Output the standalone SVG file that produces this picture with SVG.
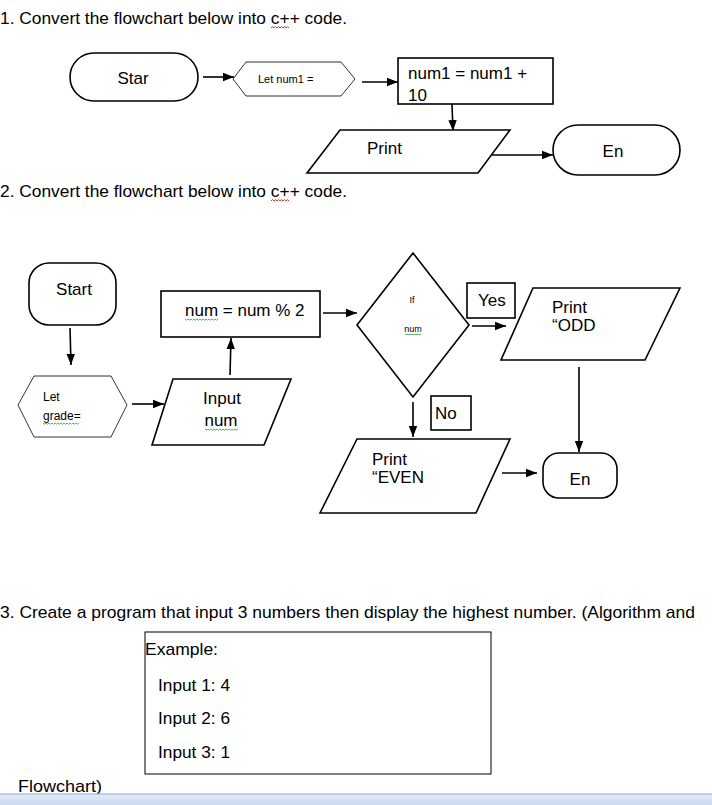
<svg xmlns="http://www.w3.org/2000/svg" width="712" height="805" viewBox="0 0 712 805">
<style>
text{font-family:"Liberation Sans",Arial,sans-serif;fill:#000}
.t{font-size:17px}
.l{font-size:17px}
.s{font-size:11px}
.s2{font-size:12px}
.xs{font-size:9px}
.sh{fill:#fff;stroke:#000;stroke-width:1.6}
.hx{fill:#fff;stroke:#333;stroke-width:1}
.c{fill:none;stroke:#000;stroke-width:1.6}
.sq{fill:none;stroke:#d00;stroke-width:0.8}
.sg{fill:none;stroke:#393;stroke-width:0.8}
</style>
<defs>
<marker id="ah" markerUnits="userSpaceOnUse" markerWidth="11" markerHeight="10" viewBox="0 0 11 10" refX="11" refY="5" orient="auto">
<path d="M0,0.8 L11,5 L0,9.2 Z" fill="#000"/>
</marker>
<linearGradient id="bar" x1="0" y1="0" x2="0" y2="1">
<stop offset="0" stop-color="#e3ecf8"/>
<stop offset="1" stop-color="#c9d9ef"/>
</linearGradient>
</defs>
<rect width="712" height="805" fill="#fff"/>

<g id="titles">
<text class="t" x="0" y="24" textLength="347" lengthAdjust="spacingAndGlyphs">1. Convert the flowchart below into c++ code.</text>
<path class="sq" d="M271,28 l1.5,-1.5 1.5,1.5 1.5,-1.5 1.5,1.5 1.5,-1.5 1.5,1.5 1.5,-1.5 1.5,1.5 1.5,-1.5 1.5,1.5 1.5,-1.5 1.5,1.5"/>
<text class="t" x="0" y="197" textLength="347" lengthAdjust="spacingAndGlyphs">2. Convert the flowchart below into c++ code.</text>
<path class="sq" d="M271,201 l1.5,-1.5 1.5,1.5 1.5,-1.5 1.5,1.5 1.5,-1.5 1.5,1.5 1.5,-1.5 1.5,1.5 1.5,-1.5 1.5,1.5 1.5,-1.5 1.5,1.5"/>
<text class="t" x="0" y="618" textLength="695" lengthAdjust="spacingAndGlyphs">3. Create a program that input 3 numbers then display the highest number. (Algorithm and</text>
<text class="t" x="18" y="792" textLength="84" lengthAdjust="spacingAndGlyphs">Flowchart)</text>
</g>

<g id="connectors">
<line class="c" x1="203" y1="77" x2="234" y2="77" marker-end="url(#ah)"/>
<line class="c" x1="362" y1="82" x2="398" y2="82" marker-end="url(#ah)"/>
<line class="c" x1="452" y1="104" x2="453" y2="131" marker-end="url(#ah)"/>
<line class="c" x1="492" y1="155" x2="553" y2="155" marker-end="url(#ah)"/>
<line class="c" x1="70" y1="328" x2="71" y2="365" marker-end="url(#ah)"/>
<line class="c" x1="132" y1="404" x2="164" y2="404" marker-end="url(#ah)"/>
<line class="c" x1="230" y1="375" x2="231" y2="338" marker-end="url(#ah)"/>
<line class="c" x1="323" y1="313" x2="357" y2="313" marker-end="url(#ah)"/>
<line class="c" x1="472" y1="326" x2="506" y2="326" marker-end="url(#ah)"/>
<line class="c" x1="413" y1="402" x2="413" y2="437" marker-end="url(#ah)"/>
<line class="c" x1="579" y1="367" x2="579" y2="452" marker-end="url(#ah)"/>
<line class="c" x1="502" y1="473" x2="537" y2="473" marker-end="url(#ah)"/>
</g>

<g id="star1">
<rect class="sh" x="70" y="53" width="128" height="48" rx="24"/>
<text class="l" x="133" y="84" text-anchor="middle">Star</text>
</g>
<g id="let1">
<polygon class="hx" points="233,79 246,62 341,62 355,79 341,96 246,96"/>
<text class="s" x="258" y="83">Let num1 =</text>
</g>
<g id="calc1">
<rect class="sh" x="398" y="58" width="155" height="46"/>
<text class="l" x="408" y="79">num1 = num1 +</text>
<text class="l" x="408" y="101">10</text>
</g>
<g id="print1">
<polygon class="sh" points="340,130 510,130 478,173 307,173"/>
<text class="l" x="367" y="154">Print</text>
</g>
<g id="end1">
<rect class="sh" x="553" y="125" width="127" height="50" rx="25"/>
<text class="l" x="613" y="157" text-anchor="middle">En</text>
</g>

<g id="start2">
<rect class="sh" x="29" y="263" width="87" height="62" rx="20"/>
<text class="l" x="74" y="295" text-anchor="middle">Start</text>
</g>
<g id="let2">
<polygon class="hx" points="18,405 34,376 111,376 127,405 111,437 34,437"/>
<text class="s2" x="43" y="401">Let</text>
<text class="s2" x="43" y="420">grade=</text>
<path class="sg" d="M43,423 l1.5,1.2 1.5,-1.2 1.5,1.2 1.5,-1.2 1.5,1.2 1.5,-1.2 1.5,1.2 1.5,-1.2 1.5,1.2 1.5,-1.2 1.5,1.2 1.5,-1.2 1.5,1.2 1.5,-1.2 1.5,1.2 1.5,-1.2 1.5,1.2 1.5,-1.2 1.5,1.2 1.5,-1.2 1.5,1.2 1.5,-1.2 1.5,1.2 1.5,-1.2"/>
</g>
<g id="input2">
<polygon class="sh" points="173,379 291,379 264,445 152,445"/>
<text class="l" x="222" y="404" text-anchor="middle">Input</text>
<text class="l" x="221" y="426" text-anchor="middle">num</text>
<path class="sg" d="M205,429 l1.5,1.2 1.5,-1.2 1.5,1.2 1.5,-1.2 1.5,1.2 1.5,-1.2 1.5,1.2 1.5,-1.2 1.5,1.2 1.5,-1.2 1.5,1.2 1.5,-1.2 1.5,1.2 1.5,-1.2 1.5,1.2 1.5,-1.2 1.5,1.2 1.5,-1.2 1.5,1.2 1.5,-1.2 1.5,1.2 1.5,-1.2"/>
</g>
<g id="mod2">
<rect class="sh" x="161" y="291" width="159" height="46"/>
<text class="l" x="185" y="316">num = num % 2</text>
<path class="sg" d="M185,319 l1.5,1.2 1.5,-1.2 1.5,1.2 1.5,-1.2 1.5,1.2 1.5,-1.2 1.5,1.2 1.5,-1.2 1.5,1.2 1.5,-1.2 1.5,1.2 1.5,-1.2 1.5,1.2 1.5,-1.2 1.5,1.2 1.5,-1.2 1.5,1.2 1.5,-1.2 1.5,1.2 1.5,-1.2 1.5,1.2 1.5,-1.2"/>
</g>
<g id="decision">
<polygon class="sh" points="413,253 469,325 413,397 357,325"/>
<text class="xs" x="412" y="303" text-anchor="middle">If</text>
<text class="xs" x="413" y="332" text-anchor="middle">num</text>
<path class="sg" d="M405,334 l1,0.8 1,-0.8 1,0.8 1,-0.8 1,0.8 1,-0.8 1,0.8 1,-0.8 1,0.8 1,-0.8 1,0.8 1,-0.8 1,0.8 1,-0.8 1,0.8 1,-0.8"/>
</g>
<g id="yes">
<rect class="sh" x="467" y="283" width="48" height="35" stroke-width="1"/>
<text class="l" x="478" y="306">Yes</text>
</g>
<g id="printodd">
<polygon class="sh" points="533,288 680,288 645,360 501,360"/>
<text class="l" x="552" y="313">Print</text>
<text class="l" x="552" y="331">“ODD</text>
</g>
<g id="no">
<rect class="sh" x="431" y="396" width="40" height="34" stroke-width="1"/>
<text class="l" x="435" y="419">No</text>
</g>
<g id="printeven">
<polygon class="sh" points="357,439 510,439 476,513 320,513"/>
<text class="l" x="372" y="465">Print</text>
<text class="l" x="372" y="483">“EVEN</text>
</g>
<g id="end2">
<rect class="sh" x="543" y="453" width="74" height="45" rx="16"/>
<text class="l" x="580" y="485" text-anchor="middle">En</text>
</g>

<g id="example">
<rect x="145" y="632" width="346" height="142" fill="#fff" stroke="#000" stroke-width="1"/>
<text class="t" x="145" y="655" textLength="73" lengthAdjust="spacingAndGlyphs">Example:</text>
<text class="t" x="158" y="691" textLength="72" lengthAdjust="spacingAndGlyphs">Input 1: 4</text>
<text class="t" x="158" y="724" textLength="72" lengthAdjust="spacingAndGlyphs">Input 2: 6</text>
<text class="t" x="158" y="758" textLength="72" lengthAdjust="spacingAndGlyphs">Input 3: 1</text>
</g>

<g id="statusbar">
<rect x="0" y="794" width="712" height="11" fill="url(#bar)"/>
<line x1="0" y1="794" x2="712" y2="794" stroke="#8ea8cc" stroke-width="1"/>
</g>
</svg>
